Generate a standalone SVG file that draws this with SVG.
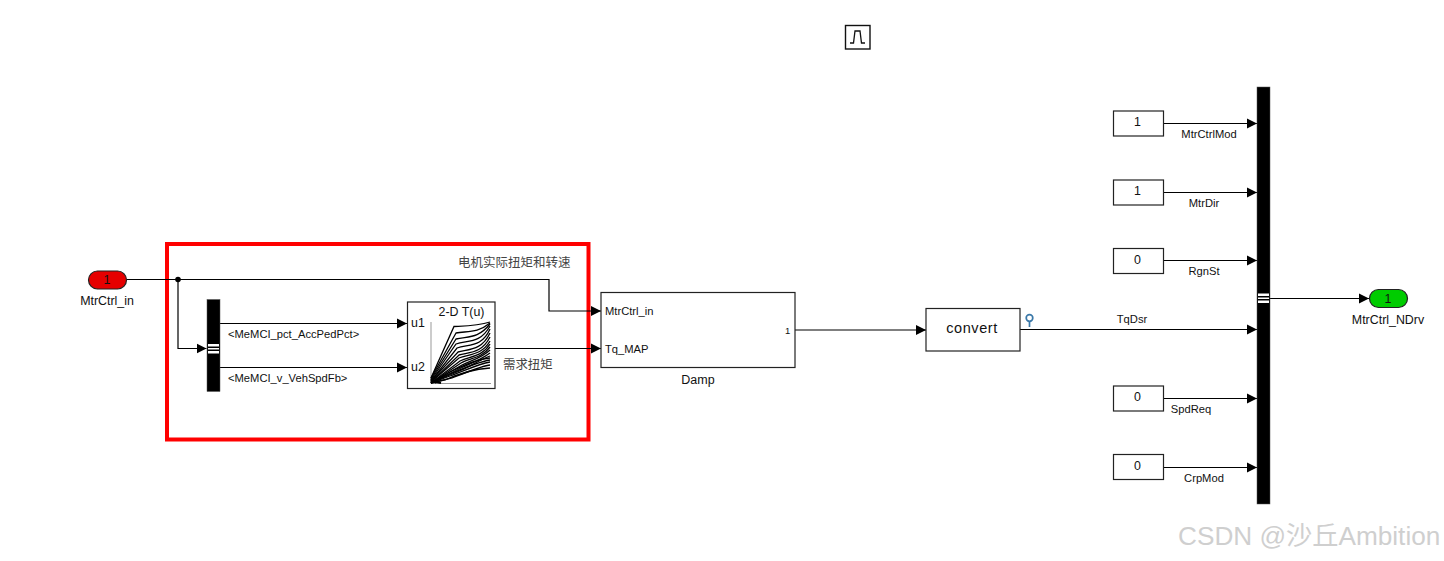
<svg xmlns="http://www.w3.org/2000/svg" width="1444" height="561" viewBox="0 0 1444 561">
<style>
text{font-family:"Liberation Sans",Arial,sans-serif;fill:#111;font-size:11.2px}
.m{text-anchor:middle}
.l12{font-size:12.4px}
.cjk{font-family:"Noto Sans CJK SC",sans-serif;font-size:12.4px;fill:#444}
.block{fill:#fff;stroke:#222;stroke-width:1.2}
.bar{fill:#000;stroke:#555;stroke-width:.5}
.wire{fill:none;stroke:#000;stroke-width:1.2}
.stripe{fill:#fff}
.crv{fill:none;stroke:#000;stroke-width:1.3}
</style>
<defs>
<marker id="arr" markerUnits="userSpaceOnUse" markerWidth="10" markerHeight="11" refX="10" refY="5.500" orient="auto"><path d="M0 0.500L10 5.500L0 10.500Z" fill="#000"/></marker>
</defs>
<rect width="1444" height="561" fill="#fff"/>
<rect id="highlight" x="167" y="244" width="421.500" height="195.500" fill="none" stroke="#f00" stroke-width="4"/>
<g id="connectors">
<path class="wire" d="M127 279.500H549V311H601" marker-end="url(#arr)"/>
<path class="wire" d="M178 279.500V348.500H206.500" marker-end="url(#arr)"/>
<path class="wire" d="M220 323.500H407" marker-end="url(#arr)"/>
<path class="wire" d="M220 367.500H407" marker-end="url(#arr)"/>
<path class="wire" d="M495 348.500H601" marker-end="url(#arr)"/>
<path class="wire" d="M795 330H926" marker-end="url(#arr)"/>
<path class="wire" d="M1020 329.500H1257" marker-end="url(#arr)"/>
<path class="wire" d="M1163.500 123.500H1257" marker-end="url(#arr)"/>
<path class="wire" d="M1163.500 192.500H1257" marker-end="url(#arr)"/>
<path class="wire" d="M1163.500 260.500H1257" marker-end="url(#arr)"/>
<path class="wire" d="M1163.500 398.500H1257" marker-end="url(#arr)"/>
<path class="wire" d="M1163.500 467.500H1257" marker-end="url(#arr)"/>
<path class="wire" d="M1270 298.500H1369" marker-end="url(#arr)"/>
<circle cx="178" cy="279.500" r="2.800" fill="#000"/>
<text class="m" x="1132" y="323">TqDsr</text>
<text class="m" x="1209" y="138">MtrCtrlMod</text>
<text class="m" x="1204" y="207">MtrDir</text>
<text class="m" x="1204" y="275">RgnSt</text>
<text class="m" x="1191" y="413">SpdReq</text>
<text class="m" x="1204" y="482">CrpMod</text>
<text x="228" y="338">&lt;MeMCI_pct_AccPedPct&gt;</text>
<text x="228" y="382">&lt;MeMCI_v_VehSpdFb&gt;</text>
<text class="cjk" x="458" y="267" style="font-size:12.5px">电机实际扭矩和转速</text>
<text class="cjk" x="503" y="369">需求扭矩</text>
<g fill="none" stroke="#3a78a8" stroke-width="1.700"><circle cx="1029.500" cy="318" r="3.300"/><path d="M1029.500 321.500V327"/></g>
</g>
<g id="pulse"><rect class="block" x="845.500" y="25.500" width="24.500" height="23.500" style="stroke:#111;stroke-width:1.400"/><path d="M850 43H853.500L855 31H860L861.500 43H865" fill="none" stroke="#111" stroke-width="1.300"/></g>
<g id="inport"><rect x="88.500" y="271" width="38" height="18" rx="9" fill="#e60000" stroke="#222" stroke-width="1.200"/><text class="m l12" x="107" y="284">1</text><text class="m l12" x="107" y="305">MtrCtrl_in</text></g>
<g id="busSelector"><rect class="bar" x="207" y="299.500" width="13" height="92"/><rect class="stripe" x="208" y="344" width="11" height="2.500"/><rect class="stripe" x="208" y="348" width="11" height="1.500"/><rect class="stripe" x="208" y="351" width="11" height="2.500"/></g>
<g id="lookup">
<rect class="block" x="407.500" y="302" width="87.500" height="86.500"/>
<text class="m l12" x="461.500" y="316">2-D T(u)</text>
<text class="l12" x="411" y="327">u1</text><text class="l12" x="411" y="371">u2</text>
<path d="M431 322V383.500H491" fill="none" stroke="#999" stroke-width="1"/>
<g class="crv">
<path d="M431 378L454 326.500C465 326 478 326 490 322"/>
<path d="M431 378L456 333C468 331 478 333 490 323"/>
<path d="M431 379L456 339C468 336 478 339 490 324"/>
<path d="M431 380L456 344C468 340 480 344 490 326"/>
<path d="M431 381L457 348C470 344 482 347 490 329"/>
<path d="M431 381L458 352C470 349 482 350 490 333"/>
<path d="M431 382L459 355C470 352 482 353 490 337"/>
<path d="M431 382L459 358C470 354 482 355 490 341"/>
<path d="M431 383L460 361C470 356 482 357 490 344"/>
<path d="M431 383L461 363C470 358 482 358 490 347"/>
<path d="M431 383L462 365C470 361 482 358 490 350"/>
<path d="M431 383L463 367C470 364 482 359 490 353"/>
<path d="M431 383L464 369C472 365 482 359 490 356"/>
<path d="M431 383L450 372C462 366 478 359 490 358"/>
<path d="M431 383L450 374C462 369 478 362 490 360"/>
<path d="M431 383L450 376C462 372 478 364 490 362"/>
<path d="M431 383L452 378C462 374 478 367 490 365"/>
<path d="M431 383L445 380C458 374 475 369 490 368"/>
<path d="M431 381L441 383M431 379L436 383" stroke-width="2"/>
</g>
</g>
<g id="damp"><rect class="block" x="601" y="292.500" width="194" height="75"/><text x="605" y="315">MtrCtrl_in</text><text x="605" y="353">Tq_MAP</text><text x="785" y="334" style="font-size:9.500px">1</text><text class="m" x="698" y="384" style="font-size:12.500px">Damp</text></g>
<g id="convert"><rect class="block" x="926" y="308.500" width="94" height="42.500"/><text class="m" x="972" y="333" style="font-size:14.500px;letter-spacing:.6px">convert</text></g>
<g id="c1"><rect class="block" x="1113.500" y="111" width="50" height="25"/><text class="m l12" x="1137.500" y="126">1</text></g>
<g id="c2"><rect class="block" x="1113.500" y="180" width="50" height="25"/><text class="m l12" x="1137.500" y="195">1</text></g>
<g id="c3"><rect class="block" x="1113.500" y="248.500" width="50" height="25"/><text class="m l12" x="1137.500" y="264">0</text></g>
<g id="c4"><rect class="block" x="1113.500" y="386" width="50" height="25"/><text class="m l12" x="1137.500" y="401">0</text></g>
<g id="c5"><rect class="block" x="1113.500" y="454.500" width="50" height="25"/><text class="m l12" x="1137.500" y="470">0</text></g>
<g id="busCreator"><rect class="bar" x="1257" y="87" width="13" height="417"/><rect class="stripe" x="1258" y="293.500" width="11" height="2.500"/><rect class="stripe" x="1258" y="297.500" width="11" height="1.500"/><rect class="stripe" x="1258" y="300.500" width="11" height="2.500"/></g>
<g id="outport"><rect x="1369.500" y="289.500" width="38" height="18" rx="9" fill="#00cc00" stroke="#222" stroke-width="1.200"/><text class="m l12" x="1388" y="303">1</text><text class="m l12" x="1388" y="324">MtrCtrl_NDrv</text></g>
<text x="1178" y="545" style="font-family:'Liberation Sans','Noto Sans CJK SC',sans-serif;font-size:26.200px;fill:#cfcfcf">CSDN @沙丘Ambition</text>
</svg>
